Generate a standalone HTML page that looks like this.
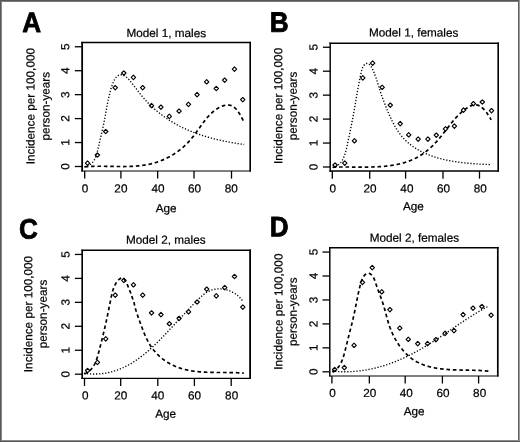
<!DOCTYPE html>
<html><head><meta charset="utf-8"><title>Incidence models</title><style>html,body{margin:0;padding:0;background:#fff;}svg{display:block;}</style></head><body>
<svg width="520" height="442" viewBox="0 0 520 442" font-family="'Liberation Sans', Arial, Helvetica, sans-serif"><style>text{stroke:#000;stroke-width:0.22px;}</style>
<rect x="0" y="0" width="520" height="442" fill="#fff"/>
<rect x="0" y="0" width="520" height="1" fill="#555"/><rect x="0" y="1" width="520" height="1" fill="#7a7a7a"/>
<rect x="0" y="0" width="1" height="442" fill="#5a5a5a"/><rect x="1" y="1" width="1" height="440" fill="#888"/>
<rect x="519" y="0" width="1" height="442" fill="#9a9a9a"/><rect x="518" y="1" width="1" height="440" fill="#626262"/>
<rect x="0" y="441" width="520" height="1" fill="#555"/><rect x="1" y="440" width="518" height="1" fill="#8a8a8a"/>
<g id="panelA">
<path d="M82.15,41.80 V171.55" stroke="#000" stroke-width="1.8"/>
<path d="M250.20,41.80 V171.55" stroke="#000" stroke-width="1.65"/>
<path d="M81.25,42.57 H251.02" stroke="#000" stroke-width="1.55"/>
<path d="M81.25,171.00 H251.02" stroke="#000" stroke-width="1.1"/>
<path d="M74.85,166.50 H82.15" stroke="#000" stroke-width="1.3"/>
<text font-size="11.75" text-anchor="middle" transform="translate(69.20 166.50) rotate(-90) matrix(1 0.001 0 1 0 0)">0</text>
<path d="M74.85,142.55 H82.15" stroke="#000" stroke-width="1.3"/>
<text font-size="11.75" text-anchor="middle" transform="translate(69.20 142.55) rotate(-90) matrix(1 0.001 0 1 0 0)">1</text>
<path d="M74.85,118.60 H82.15" stroke="#000" stroke-width="1.3"/>
<text font-size="11.75" text-anchor="middle" transform="translate(69.20 118.60) rotate(-90) matrix(1 0.001 0 1 0 0)">2</text>
<path d="M74.85,94.65 H82.15" stroke="#000" stroke-width="1.3"/>
<text font-size="11.75" text-anchor="middle" transform="translate(69.20 94.65) rotate(-90) matrix(1 0.001 0 1 0 0)">3</text>
<path d="M74.85,70.70 H82.15" stroke="#000" stroke-width="1.3"/>
<text font-size="11.75" text-anchor="middle" transform="translate(69.20 70.70) rotate(-90) matrix(1 0.001 0 1 0 0)">4</text>
<path d="M74.85,46.75 H82.15" stroke="#000" stroke-width="1.3"/>
<text font-size="11.75" text-anchor="middle" transform="translate(69.20 46.75) rotate(-90) matrix(1 0.001 0 1 0 0)">5</text>
<path d="M84.70,171.00 V178.60" stroke="#000" stroke-width="1.3"/>
<text font-size="11.75" text-anchor="middle" transform="translate(84.90 192.45) matrix(1 0.001 0 1 0 0)">0</text>
<path d="M120.90,171.00 V178.60" stroke="#000" stroke-width="1.3"/>
<text font-size="11.75" text-anchor="middle" transform="translate(120.90 192.45) matrix(1 0.001 0 1 0 0)">20</text>
<path d="M157.65,171.00 V178.60" stroke="#000" stroke-width="1.3"/>
<text font-size="11.75" text-anchor="middle" transform="translate(158.00 192.45) matrix(1 0.001 0 1 0 0)">40</text>
<path d="M194.00,171.00 V178.60" stroke="#000" stroke-width="1.3"/>
<text font-size="11.75" text-anchor="middle" transform="translate(194.60 192.45) matrix(1 0.001 0 1 0 0)">60</text>
<path d="M231.50,171.00 V178.60" stroke="#000" stroke-width="1.3"/>
<text font-size="11.75" text-anchor="middle" transform="translate(231.20 192.45) matrix(1 0.001 0 1 0 0)">80</text>
<text font-size="11.75" text-anchor="middle" transform="translate(166.25 37.10) matrix(1 0.001 0 1 0 0)">Model 1, males</text>
<text font-size="11.75" text-anchor="middle" transform="translate(166.20 212.30) matrix(1 0.001 0 1 0 0)">Age</text>
<text font-size="11.75" text-anchor="middle" transform="translate(34.50 106.15) rotate(-90) matrix(1 0.001 0 1 0 0)">Incidence per 100,000</text>
<text font-size="11.75" text-anchor="middle" transform="translate(49.50 106.15) rotate(-90) matrix(1 0.001 0 1 0 0)">person-years</text>
<text x="0" y="0" font-size="28.0" font-weight="bold" style="stroke:#000;stroke-width:0.8px;stroke-linejoin:round" transform="translate(22.24 32.00) scale(0.935 1) matrix(1 0.001 0 1 0 0)">A</text>
<path d="M84.67,166.78 L85.26,166.73 L85.86,166.68 L86.46,166.63 L87.06,166.59 L87.66,166.55 L88.25,166.51 L88.85,166.48 L89.45,166.45 L90.05,166.42 L90.65,166.39 L91.25,166.36 L91.85,166.34 L92.45,166.32 L93.05,166.30 L93.65,166.29 L94.25,166.27 L94.85,166.26 L95.45,166.25 L96.05,166.24 L96.65,166.24 L97.25,166.23 L97.85,166.23 L98.45,166.23 L99.05,166.23 L99.65,166.23 L100.25,166.23 L100.85,166.23 L101.45,166.23 L102.05,166.24 L102.65,166.25 L103.25,166.25 L103.85,166.26 L104.45,166.27 L105.05,166.28 L105.65,166.29 L106.25,166.30 L106.85,166.31 L107.45,166.32 L108.05,166.33 L108.65,166.34 L109.25,166.35 L109.85,166.36 L110.45,166.38 L111.05,166.39 L111.64,166.40 L112.24,166.41 L112.84,166.42 L113.44,166.43 L114.04,166.44 L114.64,166.46 L115.24,166.47 L115.84,166.48 L116.44,166.48 L117.04,166.49 L117.64,166.50 L118.24,166.51 L118.84,166.51 L119.44,166.52 L120.04,166.52 L120.64,166.53 L121.24,166.53 L121.84,166.53 L122.44,166.53 L123.04,166.53 L123.64,166.53 L124.24,166.53 L124.84,166.52 L125.44,166.51 L126.04,166.51 L126.64,166.50 L127.24,166.48 L127.84,166.47 L128.44,166.46 L129.04,166.44 L129.64,166.42 L130.24,166.40 L130.84,166.38 L131.44,166.35 L132.04,166.32 L132.64,166.29 L133.24,166.26 L133.83,166.23 L134.43,166.19 L135.03,166.15 L135.63,166.11 L136.23,166.06 L136.83,166.01 L137.42,165.96 L138.02,165.91 L138.62,165.85 L139.22,165.79 L139.81,165.73 L140.41,165.66 L141.01,165.59 L141.60,165.52 L142.20,165.44 L142.79,165.36 L143.38,165.28 L143.98,165.19 L144.57,165.10 L145.16,165.01 L145.75,164.91 L146.35,164.80 L146.94,164.70 L147.53,164.59 L148.11,164.47 L148.70,164.35 L149.29,164.23 L149.88,164.10 L150.46,163.97 L151.04,163.83 L151.63,163.69 L152.21,163.54 L152.79,163.39 L153.37,163.24 L153.95,163.07 L154.52,162.91 L155.10,162.74 L155.67,162.56 L156.25,162.39 L156.82,162.20 L157.39,162.01 L157.95,161.82 L158.52,161.62 L159.09,161.42 L159.65,161.21 L160.21,161.00 L160.77,160.79 L161.33,160.57 L161.88,160.34 L162.44,160.11 L162.99,159.88 L163.54,159.64 L164.09,159.40 L164.64,159.15 L165.18,158.90 L165.72,158.65 L166.27,158.39 L166.80,158.12 L167.34,157.85 L167.87,157.58 L168.41,157.30 L168.94,157.02 L169.46,156.74 L169.99,156.45 L170.51,156.15 L171.03,155.85 L171.55,155.55 L172.07,155.25 L172.58,154.93 L173.09,154.62 L173.60,154.30 L174.11,153.98 L174.61,153.65 L175.11,153.32 L175.61,152.99 L176.10,152.65 L176.60,152.31 L177.08,151.96 L177.57,151.61 L178.06,151.26 L178.54,150.90 L179.02,150.54 L179.49,150.17 L179.96,149.80 L180.43,149.43 L180.90,149.05 L181.37,148.67 L181.83,148.29 L182.28,147.90 L182.74,147.51 L183.19,147.11 L183.64,146.72 L184.08,146.31 L184.53,145.91 L184.97,145.50 L185.40,145.09 L185.83,144.67 L186.26,144.25 L186.69,143.83 L187.11,143.40 L187.53,142.97 L187.95,142.54 L188.36,142.11 L188.77,141.67 L189.17,141.23 L189.58,140.78 L189.98,140.33 L190.37,139.88 L190.76,139.43 L191.15,138.97 L191.53,138.51 L191.92,138.05 L192.29,137.58 L192.67,137.11 L193.04,136.64 L193.41,136.17 L193.78,135.69 L194.14,135.22 L194.50,134.74 L194.86,134.26 L195.22,133.78 L195.58,133.29 L195.93,132.81 L196.29,132.33 L196.64,131.84 L196.99,131.35 L197.34,130.87 L197.69,130.38 L198.04,129.89 L198.38,129.40 L198.73,128.91 L199.08,128.42 L199.43,127.93 L199.77,127.45 L200.12,126.96 L200.47,126.47 L200.82,125.98 L201.17,125.49 L201.52,125.01 L201.87,124.52 L202.23,124.04 L202.58,123.55 L202.94,123.07 L203.30,122.59 L203.66,122.11 L204.02,121.63 L204.38,121.15 L204.75,120.68 L205.12,120.21 L205.49,119.74 L205.87,119.27 L206.25,118.80 L206.63,118.34 L207.02,117.88 L207.41,117.43 L207.80,116.97 L208.20,116.53 L208.60,116.08 L209.01,115.64 L209.42,115.20 L209.83,114.77 L210.25,114.34 L210.68,113.92 L211.11,113.50 L211.54,113.09 L211.99,112.68 L212.43,112.28 L212.88,111.89 L213.34,111.50 L213.81,111.12 L214.28,110.75 L214.75,110.38 L215.23,110.02 L215.72,109.67 L216.21,109.33 L216.71,109.00 L217.22,108.68 L217.73,108.36 L218.25,108.06 L218.77,107.76 L219.30,107.48 L219.83,107.20 L220.37,106.94 L220.92,106.69 L221.47,106.45 L222.02,106.23 L222.59,106.02 L223.16,105.83 L223.73,105.66 L224.31,105.50 L224.89,105.37 L225.48,105.25 L226.07,105.16 L226.67,105.10 L227.27,105.06 L227.87,105.05 L228.47,105.07 L229.07,105.12 L229.66,105.21 L230.25,105.32 L230.83,105.48 L231.40,105.67 L231.95,105.89 L232.50,106.15 L233.02,106.44 L233.53,106.76 L234.02,107.11 L234.49,107.48 L234.94,107.88 L235.37,108.29 L235.79,108.72 L236.19,109.16 L236.59,109.62 L236.97,110.08 L237.34,110.55 L237.69,111.03 L238.04,111.52 L238.38,112.02 L238.72,112.52 L239.04,113.02 L239.36,113.53 L239.67,114.04 L239.98,114.56 L240.28,115.07 L240.58,115.60 L240.87,116.12 L241.16,116.64 L241.44,117.17 L241.73,117.70 L242.01,118.23 L242.29,118.76 L242.56,119.29 L242.84,119.83 L243.12,120.36 L243.41,120.89 L243.69,121.41" fill="none" stroke="#000" stroke-width="1.7" stroke-dasharray="3.6 2.8"/>
<path d="M84.39,166.92 L84.98,166.80 L85.56,166.66 L86.14,166.50 L86.71,166.32 L87.28,166.11 L87.83,165.89 L88.38,165.64 L88.91,165.36 L89.43,165.07 L89.94,164.75 L90.43,164.40 L90.90,164.03 L91.36,163.65 L91.80,163.24 L92.21,162.81 L92.61,162.36 L92.99,161.89 L93.35,161.41 L93.69,160.92 L94.01,160.41 L94.32,159.90 L94.61,159.37 L94.88,158.84 L95.13,158.29 L95.38,157.75 L95.60,157.19 L95.82,156.63 L96.03,156.07 L96.22,155.50 L96.41,154.93 L96.59,154.36 L96.76,153.78 L96.92,153.21 L97.08,152.63 L97.23,152.05 L97.38,151.47 L97.52,150.88 L97.66,150.30 L97.80,149.72 L97.93,149.13 L98.07,148.55 L98.21,147.96 L98.34,147.38 L98.48,146.80 L98.61,146.21 L98.75,145.63 L98.88,145.04 L99.02,144.46 L99.16,143.88 L99.29,143.29 L99.43,142.71 L99.57,142.12 L99.70,141.54 L99.84,140.96 L99.98,140.37 L100.11,139.79 L100.25,139.20 L100.38,138.62 L100.52,138.04 L100.65,137.45 L100.79,136.87 L100.93,136.28 L101.06,135.70 L101.19,135.11 L101.33,134.53 L101.46,133.95 L101.60,133.36 L101.73,132.78 L101.86,132.19 L101.99,131.61 L102.13,131.02 L102.26,130.44 L102.39,129.85 L102.52,129.27 L102.65,128.68 L102.78,128.09 L102.90,127.51 L103.03,126.92 L103.16,126.34 L103.28,125.75 L103.41,125.16 L103.53,124.58 L103.66,123.99 L103.78,123.40 L103.90,122.82 L104.02,122.23 L104.14,121.64 L104.26,121.05 L104.38,120.46 L104.50,119.88 L104.61,119.29 L104.73,118.70 L104.84,118.11 L104.96,117.52 L105.07,116.93 L105.18,116.34 L105.29,115.75 L105.39,115.16 L105.50,114.57 L105.61,113.98 L105.71,113.39 L105.82,112.80 L105.92,112.21 L106.03,111.62 L106.13,111.03 L106.23,110.44 L106.34,109.85 L106.44,109.26 L106.55,108.67 L106.65,108.08 L106.76,107.49 L106.86,106.90 L106.97,106.31 L107.08,105.72 L107.19,105.13 L107.30,104.54 L107.41,103.95 L107.52,103.36 L107.64,102.77 L107.75,102.18 L107.87,101.59 L107.99,101.01 L108.11,100.42 L108.23,99.83 L108.35,99.24 L108.48,98.66 L108.61,98.07 L108.74,97.49 L108.87,96.90 L109.00,96.32 L109.14,95.73 L109.28,95.15 L109.42,94.57 L109.57,93.99 L109.72,93.41 L109.87,92.82 L110.02,92.24 L110.17,91.67 L110.33,91.09 L110.49,90.51 L110.66,89.93 L110.82,89.36 L110.99,88.78 L111.17,88.21 L111.34,87.63 L111.52,87.06 L111.70,86.49 L111.89,85.92 L112.09,85.35 L112.28,84.79 L112.49,84.22 L112.70,83.66 L112.92,83.10 L113.15,82.55 L113.38,82.00 L113.63,81.45 L113.89,80.91 L114.16,80.37 L114.44,79.85 L114.74,79.33 L115.05,78.81 L115.38,78.31 L115.74,77.83 L116.11,77.36 L116.51,76.91 L116.93,76.49 L117.38,76.09 L117.86,75.73 L118.37,75.42 L118.91,75.15 L119.47,74.94 L120.05,74.79 L120.64,74.71 L121.24,74.70 L121.84,74.76 L122.43,74.88 L123.00,75.06 L123.55,75.28 L124.09,75.55 L124.61,75.85 L125.11,76.17 L125.60,76.52 L126.07,76.89 L126.53,77.28 L126.98,77.68 L127.42,78.09 L127.85,78.51 L128.27,78.94 L128.68,79.37 L129.08,79.81 L129.48,80.26 L129.88,80.71 L130.26,81.17 L130.65,81.63 L131.03,82.09 L131.41,82.56 L131.78,83.03 L132.16,83.50 L132.53,83.97 L132.90,84.44 L133.27,84.91 L133.64,85.38 L134.01,85.86 L134.37,86.33 L134.74,86.81 L135.11,87.28 L135.47,87.76 L135.83,88.23 L136.20,88.71 L136.56,89.19 L136.93,89.66 L137.29,90.14 L137.66,90.62 L138.02,91.09 L138.39,91.57 L138.75,92.04 L139.12,92.51 L139.49,92.99 L139.86,93.46 L140.23,93.93 L140.61,94.40 L140.98,94.87 L141.36,95.33 L141.74,95.80 L142.12,96.26 L142.50,96.72 L142.89,97.18 L143.28,97.64 L143.67,98.09 L144.06,98.54 L144.46,98.99 L144.86,99.44 L145.26,99.89 L145.66,100.33 L146.07,100.77 L146.48,101.21 L146.89,101.65 L147.30,102.09 L147.71,102.52 L148.13,102.95 L148.55,103.38 L148.97,103.80 L149.40,104.23 L149.82,104.65 L150.25,105.07 L150.68,105.49 L151.12,105.90 L151.55,106.31 L151.99,106.72 L152.43,107.13 L152.87,107.54 L153.31,107.94 L153.76,108.34 L154.21,108.74 L154.66,109.14 L155.11,109.53 L155.56,109.93 L156.02,110.32 L156.47,110.70 L156.93,111.09 L157.39,111.47 L157.86,111.85 L158.32,112.23 L158.79,112.61 L159.26,112.98 L159.73,113.35 L160.20,113.72 L160.68,114.09 L161.15,114.45 L161.63,114.82 L162.11,115.18 L162.59,115.53 L163.07,115.89 L163.56,116.24 L164.05,116.59 L164.53,116.94 L165.02,117.29 L165.52,117.63 L166.01,117.97 L166.50,118.31 L167.00,118.65 L167.50,118.98 L168.00,119.31 L168.50,119.64 L169.00,119.97 L169.51,120.29 L170.01,120.62 L170.52,120.93 L171.03,121.25 L171.54,121.57 L172.05,121.88 L172.56,122.19 L173.08,122.50 L173.60,122.80 L174.11,123.10 L174.63,123.40 L175.15,123.70 L175.68,124.00 L176.20,124.29 L176.72,124.58 L177.25,124.87 L177.78,125.15 L178.31,125.43 L178.84,125.71 L179.37,125.99 L179.90,126.27 L180.44,126.54 L180.97,126.81 L181.51,127.08 L182.05,127.34 L182.58,127.61 L183.12,127.87 L183.67,128.12 L184.21,128.38 L184.75,128.63 L185.30,128.88 L185.84,129.13 L186.39,129.38 L186.94,129.62 L187.49,129.86 L188.04,130.10 L188.59,130.34 L189.14,130.57 L189.69,130.80 L190.25,131.03 L190.80,131.26 L191.36,131.49 L191.91,131.71 L192.47,131.93 L193.03,132.15 L193.59,132.37 L194.15,132.58 L194.71,132.79 L195.27,133.00 L195.83,133.21 L196.40,133.42 L196.96,133.62 L197.53,133.82 L198.09,134.02 L198.66,134.22 L199.23,134.41 L199.79,134.61 L200.36,134.80 L200.93,134.99 L201.50,135.17 L202.07,135.36 L202.64,135.54 L203.21,135.72 L203.79,135.90 L204.36,136.08 L204.93,136.26 L205.51,136.43 L206.08,136.60 L206.66,136.77 L207.23,136.94 L207.81,137.11 L208.38,137.27 L208.96,137.44 L209.54,137.60 L210.12,137.76 L210.70,137.91 L211.27,138.07 L211.85,138.22 L212.43,138.38 L213.01,138.53 L213.60,138.68 L214.18,138.82 L214.76,138.97 L215.34,139.11 L215.92,139.26 L216.51,139.40 L217.09,139.54 L217.67,139.67 L218.26,139.81 L218.84,139.95 L219.43,140.08 L220.01,140.21 L220.60,140.34 L221.18,140.47 L221.77,140.60 L222.35,140.72 L222.94,140.85 L223.53,140.97 L224.11,141.09 L224.70,141.21 L225.29,141.33 L225.88,141.45 L226.47,141.57 L227.05,141.68 L227.64,141.80 L228.23,141.91 L228.82,142.02 L229.41,142.13 L230.00,142.24 L230.59,142.35 L231.18,142.46 L231.77,142.56 L232.36,142.66 L232.95,142.77 L233.54,142.87 L234.14,142.97 L234.73,143.07 L235.32,143.17 L235.91,143.27 L236.50,143.36 L237.09,143.46 L237.69,143.55 L238.28,143.65 L238.87,143.74 L239.46,143.83 L240.06,143.92 L240.65,144.01 L241.24,144.10 L241.84,144.19 L242.43,144.27 L243.02,144.36 L243.62,144.45 L244.21,144.53" fill="none" stroke="#000" stroke-width="1.35" stroke-dasharray="1.25 1.8"/>
<path d="M87.55,160.90 L89.75,163.10 L87.55,165.30 L85.35,163.10 Z" fill="none" stroke="#000" stroke-width="1.15" stroke-linejoin="round"/>
<path d="M97.40,152.80 L99.60,155.00 L97.40,157.20 L95.20,155.00 Z" fill="none" stroke="#000" stroke-width="1.15" stroke-linejoin="round"/>
<path d="M105.70,129.30 L107.90,131.50 L105.70,133.70 L103.50,131.50 Z" fill="none" stroke="#000" stroke-width="1.15" stroke-linejoin="round"/>
<path d="M115.20,85.50 L117.40,87.70 L115.20,89.90 L113.00,87.70 Z" fill="none" stroke="#000" stroke-width="1.15" stroke-linejoin="round"/>
<path d="M123.80,70.80 L126.00,73.00 L123.80,75.20 L121.60,73.00 Z" fill="none" stroke="#000" stroke-width="1.15" stroke-linejoin="round"/>
<path d="M133.40,75.20 L135.60,77.40 L133.40,79.60 L131.20,77.40 Z" fill="none" stroke="#000" stroke-width="1.15" stroke-linejoin="round"/>
<path d="M142.65,85.50 L144.85,87.70 L142.65,89.90 L140.45,87.70 Z" fill="none" stroke="#000" stroke-width="1.15" stroke-linejoin="round"/>
<path d="M151.50,103.35 L153.70,105.55 L151.50,107.75 L149.30,105.55 Z" fill="none" stroke="#000" stroke-width="1.15" stroke-linejoin="round"/>
<path d="M160.90,105.00 L163.10,107.20 L160.90,109.40 L158.70,107.20 Z" fill="none" stroke="#000" stroke-width="1.15" stroke-linejoin="round"/>
<path d="M169.30,114.15 L171.50,116.35 L169.30,118.55 L167.10,116.35 Z" fill="none" stroke="#000" stroke-width="1.15" stroke-linejoin="round"/>
<path d="M179.05,108.85 L181.25,111.05 L179.05,113.25 L176.85,111.05 Z" fill="none" stroke="#000" stroke-width="1.15" stroke-linejoin="round"/>
<path d="M188.45,102.20 L190.65,104.40 L188.45,106.60 L186.25,104.40 Z" fill="none" stroke="#000" stroke-width="1.15" stroke-linejoin="round"/>
<path d="M197.05,92.40 L199.25,94.60 L197.05,96.80 L194.85,94.60 Z" fill="none" stroke="#000" stroke-width="1.15" stroke-linejoin="round"/>
<path d="M206.65,79.60 L208.85,81.80 L206.65,84.00 L204.45,81.80 Z" fill="none" stroke="#000" stroke-width="1.15" stroke-linejoin="round"/>
<path d="M216.25,86.30 L218.45,88.50 L216.25,90.70 L214.05,88.50 Z" fill="none" stroke="#000" stroke-width="1.15" stroke-linejoin="round"/>
<path d="M224.65,78.00 L226.85,80.20 L224.65,82.40 L222.45,80.20 Z" fill="none" stroke="#000" stroke-width="1.15" stroke-linejoin="round"/>
<path d="M234.45,66.90 L236.65,69.10 L234.45,71.30 L232.25,69.10 Z" fill="none" stroke="#000" stroke-width="1.15" stroke-linejoin="round"/>
<path d="M242.75,97.50 L244.95,99.70 L242.75,101.90 L240.55,99.70 Z" fill="none" stroke="#000" stroke-width="1.15" stroke-linejoin="round"/>
</g>
<g id="panelB">
<path d="M330.20,42.55 V171.75" stroke="#000" stroke-width="1.45"/>
<path d="M498.20,42.55 V171.75" stroke="#000" stroke-width="1.6"/>
<path d="M329.47,43.25 H499.00" stroke="#000" stroke-width="1.4"/>
<path d="M329.47,171.05 H499.00" stroke="#000" stroke-width="1.4"/>
<path d="M322.90,167.00 H330.20" stroke="#000" stroke-width="1.3"/>
<text font-size="11.75" text-anchor="middle" transform="translate(317.50 167.00) rotate(-90) matrix(1 0.001 0 1 0 0)">0</text>
<path d="M322.90,143.05 H330.20" stroke="#000" stroke-width="1.3"/>
<text font-size="11.75" text-anchor="middle" transform="translate(317.50 143.05) rotate(-90) matrix(1 0.001 0 1 0 0)">1</text>
<path d="M322.90,119.10 H330.20" stroke="#000" stroke-width="1.3"/>
<text font-size="11.75" text-anchor="middle" transform="translate(317.50 119.10) rotate(-90) matrix(1 0.001 0 1 0 0)">2</text>
<path d="M322.90,95.15 H330.20" stroke="#000" stroke-width="1.3"/>
<text font-size="11.75" text-anchor="middle" transform="translate(317.50 95.15) rotate(-90) matrix(1 0.001 0 1 0 0)">3</text>
<path d="M322.90,71.20 H330.20" stroke="#000" stroke-width="1.3"/>
<text font-size="11.75" text-anchor="middle" transform="translate(317.50 71.20) rotate(-90) matrix(1 0.001 0 1 0 0)">4</text>
<path d="M322.90,47.25 H330.20" stroke="#000" stroke-width="1.3"/>
<text font-size="11.75" text-anchor="middle" transform="translate(317.50 47.25) rotate(-90) matrix(1 0.001 0 1 0 0)">5</text>
<path d="M332.30,171.05 V178.65" stroke="#000" stroke-width="1.3"/>
<text font-size="11.75" text-anchor="middle" transform="translate(332.70 192.50) matrix(1 0.001 0 1 0 0)">0</text>
<path d="M369.70,171.05 V178.65" stroke="#000" stroke-width="1.3"/>
<text font-size="11.75" text-anchor="middle" transform="translate(370.00 192.50) matrix(1 0.001 0 1 0 0)">20</text>
<path d="M405.60,171.05 V178.65" stroke="#000" stroke-width="1.3"/>
<text font-size="11.75" text-anchor="middle" transform="translate(406.90 192.50) matrix(1 0.001 0 1 0 0)">40</text>
<path d="M443.00,171.05 V178.65" stroke="#000" stroke-width="1.3"/>
<text font-size="11.75" text-anchor="middle" transform="translate(443.60 192.50) matrix(1 0.001 0 1 0 0)">60</text>
<path d="M479.50,171.05 V178.65" stroke="#000" stroke-width="1.3"/>
<text font-size="11.75" text-anchor="middle" transform="translate(480.20 192.50) matrix(1 0.001 0 1 0 0)">80</text>
<text font-size="11.75" text-anchor="middle" transform="translate(413.65 36.60) matrix(1 0.001 0 1 0 0)">Model 1, females</text>
<text font-size="11.75" text-anchor="middle" transform="translate(413.40 210.20) matrix(1 0.001 0 1 0 0)">Age</text>
<text font-size="11.75" text-anchor="middle" transform="translate(282.30 105.95) rotate(-90) matrix(1 0.001 0 1 0 0)">Incidence per 100,000</text>
<text font-size="11.75" text-anchor="middle" transform="translate(296.80 105.95) rotate(-90) matrix(1 0.001 0 1 0 0)">person-years</text>
<text x="0" y="0" font-size="28.0" font-weight="bold" style="stroke:#000;stroke-width:0.8px;stroke-linejoin:round" transform="translate(269.80 31.70) scale(0.935 1) matrix(1 0.001 0 1 0 0)">B</text>
<path d="M332.70,167.23 L333.30,167.20 L333.90,167.18 L334.50,167.16 L335.10,167.13 L335.70,167.12 L336.30,167.10 L336.90,167.08 L337.50,167.07 L338.10,167.05 L338.70,167.04 L339.30,167.03 L339.90,167.02 L340.50,167.02 L341.10,167.01 L341.70,167.01 L342.30,167.00 L342.90,167.00 L343.50,167.00 L344.10,166.99 L344.70,166.99 L345.30,166.99 L345.90,167.00 L346.50,167.00 L347.10,167.00 L347.70,167.00 L348.30,167.01 L348.90,167.01 L349.50,167.01 L350.10,167.02 L350.70,167.02 L351.30,167.03 L351.90,167.03 L352.50,167.04 L353.10,167.04 L353.70,167.05 L354.30,167.05 L354.90,167.06 L355.50,167.06 L356.10,167.07 L356.70,167.07 L357.30,167.08 L357.90,167.08 L358.50,167.09 L359.10,167.09 L359.70,167.09 L360.30,167.10 L360.90,167.10 L361.50,167.10 L362.10,167.10 L362.70,167.10 L363.30,167.10 L363.90,167.10 L364.50,167.10 L365.10,167.10 L365.70,167.09 L366.30,167.09 L366.90,167.08 L367.50,167.08 L368.10,167.07 L368.70,167.06 L369.30,167.05 L369.90,167.04 L370.50,167.03 L371.10,167.02 L371.70,167.00 L372.30,166.99 L372.90,166.97 L373.50,166.95 L374.10,166.93 L374.70,166.91 L375.29,166.88 L375.89,166.86 L376.49,166.83 L377.09,166.80 L377.69,166.77 L378.29,166.74 L378.89,166.70 L379.49,166.67 L380.09,166.63 L380.69,166.59 L381.28,166.55 L381.88,166.50 L382.48,166.46 L383.08,166.41 L383.68,166.35 L384.27,166.30 L384.87,166.24 L385.47,166.19 L386.07,166.12 L386.66,166.06 L387.26,165.99 L387.85,165.92 L388.45,165.85 L389.05,165.78 L389.64,165.70 L390.23,165.62 L390.83,165.54 L391.42,165.45 L392.02,165.36 L392.61,165.27 L393.20,165.17 L393.79,165.07 L394.38,164.97 L394.97,164.86 L395.56,164.75 L396.15,164.64 L396.74,164.52 L397.33,164.40 L397.92,164.27 L398.50,164.15 L399.09,164.01 L399.67,163.88 L400.25,163.74 L400.84,163.59 L401.42,163.44 L402.00,163.29 L402.58,163.13 L403.16,162.97 L403.73,162.81 L404.31,162.64 L404.88,162.46 L405.45,162.29 L406.03,162.10 L406.59,161.91 L407.16,161.72 L407.73,161.52 L408.29,161.32 L408.86,161.11 L409.42,160.90 L409.98,160.68 L410.53,160.46 L411.09,160.23 L411.64,160.00 L412.19,159.76 L412.74,159.52 L413.29,159.27 L413.83,159.02 L414.37,158.76 L414.91,158.50 L415.45,158.23 L415.98,157.95 L416.51,157.67 L417.04,157.39 L417.57,157.10 L418.09,156.80 L418.61,156.50 L419.12,156.20 L419.64,155.89 L420.15,155.57 L420.66,155.25 L421.16,154.93 L421.66,154.60 L422.16,154.27 L422.66,153.93 L423.15,153.59 L423.64,153.24 L424.13,152.89 L424.61,152.54 L425.10,152.18 L425.57,151.82 L426.05,151.45 L426.52,151.08 L426.99,150.71 L427.46,150.33 L427.92,149.95 L428.38,149.56 L428.84,149.18 L429.29,148.78 L429.74,148.39 L430.19,147.99 L430.63,147.59 L431.08,147.18 L431.51,146.77 L431.95,146.36 L432.38,145.94 L432.81,145.52 L433.24,145.10 L433.66,144.68 L434.08,144.25 L434.50,143.82 L434.92,143.39 L435.33,142.95 L435.74,142.51 L436.14,142.07 L436.55,141.62 L436.95,141.18 L437.34,140.73 L437.74,140.28 L438.13,139.82 L438.52,139.37 L438.91,138.91 L439.29,138.45 L439.68,137.99 L440.06,137.53 L440.44,137.06 L440.82,136.59 L441.19,136.13 L441.57,135.66 L441.94,135.19 L442.31,134.72 L442.69,134.25 L443.06,133.78 L443.42,133.30 L443.79,132.83 L444.16,132.35 L444.53,131.88 L444.89,131.40 L445.26,130.93 L445.62,130.45 L445.99,129.98 L446.36,129.50 L446.72,129.03 L447.09,128.55 L447.45,128.07 L447.82,127.60 L448.19,127.13 L448.55,126.65 L448.92,126.18 L449.29,125.70 L449.66,125.23 L450.03,124.76 L450.41,124.29 L450.78,123.82 L451.15,123.35 L451.53,122.89 L451.91,122.42 L452.29,121.96 L452.67,121.49 L453.06,121.03 L453.44,120.58 L453.83,120.12 L454.22,119.66 L454.62,119.21 L455.01,118.76 L455.41,118.31 L455.81,117.87 L456.22,117.42 L456.62,116.98 L457.03,116.54 L457.45,116.11 L457.87,115.68 L458.29,115.25 L458.71,114.83 L459.14,114.40 L459.57,113.99 L460.00,113.57 L460.44,113.16 L460.88,112.76 L461.33,112.36 L461.78,111.96 L462.24,111.57 L462.70,111.19 L463.16,110.80 L463.63,110.43 L464.10,110.06 L464.57,109.69 L465.05,109.33 L465.54,108.98 L466.03,108.63 L466.52,108.29 L467.02,107.96 L467.52,107.63 L468.03,107.31 L468.55,107.00 L469.07,106.70 L469.59,106.42 L470.13,106.15 L470.67,105.90 L471.23,105.66 L471.79,105.45 L472.36,105.26 L472.94,105.11 L473.52,104.98 L474.12,104.89 L474.71,104.84 L475.31,104.83 L475.91,104.86 L476.51,104.93 L477.10,105.04 L477.68,105.19 L478.25,105.37 L478.81,105.58 L479.36,105.83 L479.89,106.11 L480.41,106.41 L480.91,106.74 L481.40,107.09 L481.87,107.46 L482.33,107.85 L482.78,108.25 L483.21,108.66 L483.64,109.08 L484.05,109.52 L484.45,109.96 L484.85,110.41 L485.23,110.87 L485.61,111.34 L485.98,111.81 L486.34,112.29 L486.70,112.77 L487.05,113.26 L487.39,113.75 L487.73,114.25 L488.06,114.75 L488.39,115.25 L488.71,115.76 L489.03,116.26 L489.35,116.77 L489.66,117.29 L489.96,117.80 L490.27,118.32 L490.57,118.84 L490.87,119.36 L491.16,119.88" fill="none" stroke="#000" stroke-width="1.7" stroke-dasharray="3.6 2.8"/>
<path d="M332.79,167.72 L333.36,167.55 L333.93,167.35 L334.48,167.13 L335.03,166.90 L335.58,166.64 L336.11,166.36 L336.63,166.06 L337.13,165.74 L337.63,165.41 L338.11,165.05 L338.57,164.67 L339.02,164.27 L339.46,163.86 L339.87,163.43 L340.28,162.99 L340.66,162.53 L341.03,162.06 L341.39,161.58 L341.73,161.09 L342.05,160.58 L342.37,160.07 L342.66,159.55 L342.95,159.02 L343.22,158.49 L343.48,157.95 L343.72,157.40 L343.96,156.85 L344.19,156.30 L344.40,155.74 L344.61,155.18 L344.81,154.61 L345.00,154.04 L345.18,153.47 L345.36,152.90 L345.53,152.33 L345.69,151.75 L345.85,151.17 L346.00,150.59 L346.15,150.01 L346.29,149.43 L346.43,148.85 L346.57,148.26 L346.70,147.68 L346.83,147.10 L346.96,146.51 L347.09,145.92 L347.21,145.34 L347.34,144.75 L347.46,144.17 L347.58,143.58 L347.70,142.99 L347.83,142.41 L347.95,141.82 L348.07,141.23 L348.19,140.65 L348.32,140.06 L348.44,139.47 L348.56,138.89 L348.68,138.30 L348.80,137.72 L348.93,137.13 L349.05,136.54 L349.17,135.96 L349.29,135.37 L349.41,134.78 L349.54,134.20 L349.66,133.61 L349.78,133.02 L349.90,132.44 L350.02,131.85 L350.14,131.26 L350.26,130.68 L350.38,130.09 L350.50,129.50 L350.62,128.91 L350.74,128.33 L350.86,127.74 L350.98,127.15 L351.10,126.57 L351.21,125.98 L351.33,125.39 L351.45,124.80 L351.57,124.22 L351.68,123.63 L351.80,123.04 L351.91,122.45 L352.03,121.87 L352.14,121.28 L352.26,120.69 L352.37,120.10 L352.49,119.51 L352.60,118.92 L352.71,118.34 L352.82,117.75 L352.93,117.16 L353.04,116.57 L353.15,115.98 L353.26,115.39 L353.37,114.80 L353.48,114.21 L353.59,113.62 L353.69,113.03 L353.80,112.45 L353.91,111.86 L354.01,111.27 L354.12,110.68 L354.22,110.09 L354.32,109.50 L354.43,108.91 L354.53,108.32 L354.63,107.73 L354.73,107.14 L354.84,106.54 L354.94,105.95 L355.04,105.36 L355.14,104.77 L355.24,104.18 L355.34,103.59 L355.44,103.00 L355.54,102.41 L355.64,101.82 L355.74,101.23 L355.84,100.64 L355.95,100.05 L356.05,99.46 L356.15,98.87 L356.25,98.28 L356.35,97.69 L356.45,97.10 L356.55,96.51 L356.65,95.92 L356.75,95.33 L356.86,94.74 L356.96,94.14 L357.06,93.55 L357.17,92.96 L357.27,92.37 L357.37,91.78 L357.48,91.19 L357.58,90.60 L357.69,90.02 L357.79,89.43 L357.90,88.84 L358.01,88.25 L358.12,87.66 L358.22,87.07 L358.33,86.48 L358.44,85.89 L358.55,85.30 L358.66,84.71 L358.78,84.12 L358.89,83.54 L359.00,82.95 L359.12,82.36 L359.23,81.77 L359.35,81.18 L359.46,80.60 L359.58,80.01 L359.70,79.42 L359.82,78.83 L359.94,78.25 L360.06,77.66 L360.19,77.07 L360.31,76.49 L360.43,75.90 L360.56,75.32 L360.69,74.73 L360.81,74.15 L360.94,73.56 L361.07,72.98 L361.21,72.39 L361.34,71.81 L361.48,71.23 L361.63,70.65 L361.79,70.07 L361.95,69.49 L362.14,68.92 L362.33,68.36 L362.55,67.80 L362.78,67.25 L363.04,66.71 L363.33,66.18 L363.66,65.68 L364.02,65.20 L364.42,64.76 L364.87,64.36 L365.35,64.01 L365.88,63.72 L366.44,63.52 L367.03,63.42 L367.63,63.47 L368.20,63.64 L368.73,63.91 L369.22,64.25 L369.67,64.65 L370.08,65.09 L370.46,65.55 L370.82,66.03 L371.15,66.52 L371.47,67.03 L371.77,67.55 L372.06,68.07 L372.34,68.61 L372.60,69.14 L372.86,69.68 L373.11,70.23 L373.35,70.78 L373.58,71.33 L373.81,71.88 L374.04,72.44 L374.25,73.00 L374.47,73.56 L374.68,74.12 L374.89,74.68 L375.09,75.24 L375.29,75.81 L375.50,76.37 L375.69,76.94 L375.89,77.50 L376.08,78.07 L376.28,78.64 L376.47,79.20 L376.66,79.77 L376.84,80.34 L377.03,80.91 L377.21,81.48 L377.39,82.05 L377.57,82.62 L377.75,83.20 L377.93,83.77 L378.11,84.34 L378.28,84.91 L378.46,85.49 L378.63,86.06 L378.80,86.63 L378.98,87.21 L379.15,87.78 L379.32,88.35 L379.50,88.92 L379.68,89.50 L379.85,90.07 L380.03,90.64 L380.21,91.21 L380.40,91.78 L380.58,92.35 L380.77,92.92 L380.96,93.49 L381.15,94.06 L381.34,94.62 L381.54,95.19 L381.74,95.76 L381.94,96.32 L382.14,96.88 L382.34,97.45 L382.55,98.01 L382.76,98.57 L382.97,99.13 L383.18,99.69 L383.39,100.26 L383.60,100.81 L383.82,101.37 L384.03,101.93 L384.25,102.49 L384.47,103.05 L384.69,103.61 L384.91,104.16 L385.13,104.72 L385.35,105.28 L385.57,105.83 L385.79,106.39 L386.02,106.95 L386.24,107.50 L386.47,108.06 L386.69,108.61 L386.92,109.17 L387.15,109.72 L387.38,110.27 L387.61,110.83 L387.84,111.38 L388.07,111.93 L388.30,112.48 L388.54,113.03 L388.77,113.59 L389.01,114.14 L389.25,114.68 L389.49,115.23 L389.73,115.78 L389.98,116.33 L390.22,116.87 L390.47,117.42 L390.72,117.96 L390.98,118.51 L391.23,119.05 L391.49,119.59 L391.75,120.13 L392.01,120.67 L392.27,121.21 L392.54,121.74 L392.81,122.28 L393.09,122.81 L393.36,123.34 L393.64,123.87 L393.92,124.40 L394.21,124.93 L394.50,125.45 L394.79,125.98 L395.08,126.50 L395.38,127.02 L395.68,127.53 L395.99,128.05 L396.30,128.56 L396.61,129.07 L396.93,129.58 L397.25,130.08 L397.58,130.59 L397.91,131.09 L398.24,131.58 L398.58,132.08 L398.92,132.57 L399.27,133.06 L399.62,133.54 L399.98,134.02 L400.34,134.50 L400.71,134.97 L401.09,135.44 L401.46,135.90 L401.85,136.37 L402.24,136.82 L402.63,137.27 L403.03,137.72 L403.43,138.17 L403.84,138.60 L404.25,139.04 L404.66,139.47 L405.09,139.90 L405.51,140.32 L405.94,140.73 L406.38,141.15 L406.81,141.55 L407.26,141.96 L407.70,142.36 L408.16,142.75 L408.61,143.14 L409.07,143.53 L409.53,143.91 L410.00,144.28 L410.47,144.65 L410.94,145.02 L411.42,145.38 L411.90,145.74 L412.39,146.09 L412.88,146.44 L413.37,146.78 L413.86,147.12 L414.36,147.45 L414.86,147.78 L415.36,148.11 L415.87,148.43 L416.38,148.74 L416.89,149.05 L417.40,149.36 L417.92,149.66 L418.44,149.96 L418.96,150.26 L419.49,150.54 L420.01,150.83 L420.54,151.11 L421.07,151.39 L421.61,151.66 L422.14,151.93 L422.68,152.19 L423.22,152.45 L423.76,152.71 L424.31,152.96 L424.85,153.21 L425.40,153.45 L425.95,153.69 L426.50,153.93 L427.05,154.16 L427.60,154.39 L428.16,154.61 L428.72,154.83 L429.27,155.05 L429.83,155.26 L430.40,155.47 L430.96,155.68 L431.52,155.88 L432.09,156.08 L432.65,156.28 L433.22,156.47 L433.79,156.66 L434.36,156.85 L434.93,157.03 L435.50,157.21 L436.07,157.39 L436.64,157.56 L437.22,157.73 L437.79,157.90 L438.37,158.06 L438.95,158.22 L439.53,158.38 L440.10,158.54 L440.68,158.69 L441.26,158.84 L441.84,158.99 L442.43,159.13 L443.01,159.27 L443.59,159.41 L444.17,159.55 L444.76,159.68 L445.34,159.81 L445.93,159.94 L446.51,160.07 L447.10,160.19 L447.69,160.31 L448.27,160.43 L448.86,160.55 L449.45,160.66 L450.04,160.77 L450.63,160.88 L451.22,160.99 L451.81,161.09 L452.40,161.20 L452.99,161.30 L453.58,161.39 L454.17,161.49 L454.76,161.59 L455.35,161.68 L455.94,161.77 L456.54,161.86 L457.13,161.94 L457.72,162.03 L458.32,162.11 L458.91,162.19 L459.50,162.27 L460.10,162.35 L460.69,162.42 L461.29,162.50 L461.88,162.57 L462.48,162.64 L463.07,162.71 L463.67,162.78 L464.26,162.84 L464.86,162.91 L465.45,162.97 L466.05,163.03 L466.64,163.09 L467.24,163.15 L467.84,163.21 L468.43,163.26 L469.03,163.32 L469.63,163.37 L470.22,163.42 L470.82,163.47 L471.42,163.52 L472.02,163.57 L472.61,163.62 L473.21,163.66 L473.81,163.71 L474.40,163.75 L475.00,163.79 L475.60,163.83 L476.20,163.87 L476.80,163.91 L477.39,163.95 L477.99,163.99 L478.59,164.03 L479.19,164.06 L479.79,164.10 L480.38,164.13 L480.98,164.16 L481.58,164.19 L482.18,164.23 L482.78,164.26 L483.37,164.29 L483.97,164.32 L484.57,164.34 L485.17,164.37 L485.77,164.40 L486.37,164.43 L486.97,164.45 L487.56,164.48 L488.16,164.50 L488.76,164.53 L489.36,164.55 L489.96,164.58 L490.56,164.60 L491.15,164.63" fill="none" stroke="#000" stroke-width="1.35" stroke-dasharray="1.25 1.8"/>
<path d="M335.05,162.80 L337.25,165.00 L335.05,167.20 L332.85,165.00 Z" fill="none" stroke="#000" stroke-width="1.15" stroke-linejoin="round"/>
<path d="M344.75,160.90 L346.95,163.10 L344.75,165.30 L342.55,163.10 Z" fill="none" stroke="#000" stroke-width="1.15" stroke-linejoin="round"/>
<path d="M354.45,138.60 L356.65,140.80 L354.45,143.00 L352.25,140.80 Z" fill="none" stroke="#000" stroke-width="1.15" stroke-linejoin="round"/>
<path d="M362.80,75.70 L365.00,77.90 L362.80,80.10 L360.60,77.90 Z" fill="none" stroke="#000" stroke-width="1.15" stroke-linejoin="round"/>
<path d="M372.65,60.90 L374.85,63.10 L372.65,65.30 L370.45,63.10 Z" fill="none" stroke="#000" stroke-width="1.15" stroke-linejoin="round"/>
<path d="M382.15,85.10 L384.35,87.30 L382.15,89.50 L379.95,87.30 Z" fill="none" stroke="#000" stroke-width="1.15" stroke-linejoin="round"/>
<path d="M390.30,103.00 L392.50,105.20 L390.30,107.40 L388.10,105.20 Z" fill="none" stroke="#000" stroke-width="1.15" stroke-linejoin="round"/>
<path d="M400.20,121.40 L402.40,123.60 L400.20,125.80 L398.00,123.60 Z" fill="none" stroke="#000" stroke-width="1.15" stroke-linejoin="round"/>
<path d="M408.70,132.60 L410.90,134.80 L408.70,137.00 L406.50,134.80 Z" fill="none" stroke="#000" stroke-width="1.15" stroke-linejoin="round"/>
<path d="M418.15,136.90 L420.35,139.10 L418.15,141.30 L415.95,139.10 Z" fill="none" stroke="#000" stroke-width="1.15" stroke-linejoin="round"/>
<path d="M427.90,136.90 L430.10,139.10 L427.90,141.30 L425.70,139.10 Z" fill="none" stroke="#000" stroke-width="1.15" stroke-linejoin="round"/>
<path d="M436.30,133.00 L438.50,135.20 L436.30,137.40 L434.10,135.20 Z" fill="none" stroke="#000" stroke-width="1.15" stroke-linejoin="round"/>
<path d="M445.50,126.70 L447.70,128.90 L445.50,131.10 L443.30,128.90 Z" fill="none" stroke="#000" stroke-width="1.15" stroke-linejoin="round"/>
<path d="M454.40,123.90 L456.60,126.10 L454.40,128.30 L452.20,126.10 Z" fill="none" stroke="#000" stroke-width="1.15" stroke-linejoin="round"/>
<path d="M463.50,107.90 L465.70,110.10 L463.50,112.30 L461.30,110.10 Z" fill="none" stroke="#000" stroke-width="1.15" stroke-linejoin="round"/>
<path d="M473.40,101.50 L475.60,103.70 L473.40,105.90 L471.20,103.70 Z" fill="none" stroke="#000" stroke-width="1.15" stroke-linejoin="round"/>
<path d="M482.30,99.80 L484.50,102.00 L482.30,104.20 L480.10,102.00 Z" fill="none" stroke="#000" stroke-width="1.15" stroke-linejoin="round"/>
<path d="M491.50,108.50 L493.70,110.70 L491.50,112.90 L489.30,110.70 Z" fill="none" stroke="#000" stroke-width="1.15" stroke-linejoin="round"/>
</g>
<g id="panelC">
<path d="M82.20,249.58 V378.95" stroke="#000" stroke-width="1.65"/>
<path d="M250.10,249.58 V378.95" stroke="#000" stroke-width="1.8"/>
<path d="M81.38,250.30 H251.00" stroke="#000" stroke-width="1.45"/>
<path d="M81.38,378.35 H251.00" stroke="#000" stroke-width="1.2"/>
<path d="M74.90,374.20 H82.20" stroke="#000" stroke-width="1.3"/>
<text font-size="11.75" text-anchor="middle" transform="translate(69.40 374.20) rotate(-90) matrix(1 0.001 0 1 0 0)">0</text>
<path d="M74.90,350.25 H82.20" stroke="#000" stroke-width="1.3"/>
<text font-size="11.75" text-anchor="middle" transform="translate(69.40 350.25) rotate(-90) matrix(1 0.001 0 1 0 0)">1</text>
<path d="M74.90,326.30 H82.20" stroke="#000" stroke-width="1.3"/>
<text font-size="11.75" text-anchor="middle" transform="translate(69.40 326.30) rotate(-90) matrix(1 0.001 0 1 0 0)">2</text>
<path d="M74.90,302.35 H82.20" stroke="#000" stroke-width="1.3"/>
<text font-size="11.75" text-anchor="middle" transform="translate(69.40 302.35) rotate(-90) matrix(1 0.001 0 1 0 0)">3</text>
<path d="M74.90,278.40 H82.20" stroke="#000" stroke-width="1.3"/>
<text font-size="11.75" text-anchor="middle" transform="translate(69.40 278.40) rotate(-90) matrix(1 0.001 0 1 0 0)">4</text>
<path d="M74.90,254.45 H82.20" stroke="#000" stroke-width="1.3"/>
<text font-size="11.75" text-anchor="middle" transform="translate(69.40 254.45) rotate(-90) matrix(1 0.001 0 1 0 0)">5</text>
<path d="M84.50,378.35 V385.95" stroke="#000" stroke-width="1.3"/>
<text font-size="11.75" text-anchor="middle" transform="translate(85.25 399.40) matrix(1 0.001 0 1 0 0)">0</text>
<path d="M120.70,378.35 V385.95" stroke="#000" stroke-width="1.3"/>
<text font-size="11.75" text-anchor="middle" transform="translate(120.70 399.40) matrix(1 0.001 0 1 0 0)">20</text>
<path d="M157.80,378.35 V385.95" stroke="#000" stroke-width="1.3"/>
<text font-size="11.75" text-anchor="middle" transform="translate(157.75 399.40) matrix(1 0.001 0 1 0 0)">40</text>
<path d="M194.40,378.35 V385.95" stroke="#000" stroke-width="1.3"/>
<text font-size="11.75" text-anchor="middle" transform="translate(194.60 399.40) matrix(1 0.001 0 1 0 0)">60</text>
<path d="M231.20,378.35 V385.95" stroke="#000" stroke-width="1.3"/>
<text font-size="11.75" text-anchor="middle" transform="translate(231.65 399.40) matrix(1 0.001 0 1 0 0)">80</text>
<text font-size="11.75" text-anchor="middle" transform="translate(165.80 243.70) matrix(1 0.001 0 1 0 0)">Model 2, males</text>
<text font-size="11.75" text-anchor="middle" transform="translate(165.65 417.80) matrix(1 0.001 0 1 0 0)">Age</text>
<text font-size="11.75" text-anchor="middle" transform="translate(32.30 314.00) rotate(-90) matrix(1 0.001 0 1 0 0)">Incidence per 100,000</text>
<text font-size="11.75" text-anchor="middle" transform="translate(46.70 314.00) rotate(-90) matrix(1 0.001 0 1 0 0)">person-years</text>
<text x="0" y="0" font-size="28.0" font-weight="bold" style="stroke:#000;stroke-width:0.8px;stroke-linejoin:round" transform="translate(19.10 238.40) scale(0.935 1) matrix(1 0.001 0 1 0 0)">C</text>
<path d="M84.23,374.08 L84.77,373.83 L85.31,373.57 L85.84,373.30 L86.37,373.01 L86.88,372.70 L87.39,372.39 L87.89,372.05 L88.38,371.70 L88.85,371.34 L89.32,370.96 L89.77,370.57 L90.21,370.16 L90.64,369.74 L91.05,369.31 L91.45,368.87 L91.84,368.41 L92.21,367.94 L92.58,367.46 L92.93,366.98 L93.26,366.48 L93.58,365.98 L93.89,365.46 L94.19,364.95 L94.48,364.42 L94.75,363.89 L95.02,363.35 L95.27,362.81 L95.51,362.26 L95.75,361.71 L95.97,361.15 L96.19,360.60 L96.40,360.04 L96.60,359.47 L96.80,358.91 L96.99,358.34 L97.17,357.77 L97.35,357.19 L97.52,356.62 L97.69,356.05 L97.86,355.47 L98.02,354.89 L98.18,354.32 L98.33,353.74 L98.49,353.16 L98.64,352.58 L98.79,352.00 L98.94,351.42 L99.09,350.84 L99.24,350.26 L99.40,349.68 L99.55,349.10 L99.70,348.52 L99.84,347.94 L99.99,347.36 L100.14,346.78 L100.29,346.20 L100.44,345.62 L100.59,345.04 L100.74,344.46 L100.89,343.88 L101.03,343.30 L101.18,342.72 L101.33,342.14 L101.47,341.56 L101.62,340.98 L101.76,340.40 L101.91,339.82 L102.05,339.23 L102.20,338.65 L102.34,338.07 L102.48,337.49 L102.63,336.91 L102.77,336.33 L102.91,335.75 L103.05,335.16 L103.19,334.58 L103.34,334.00 L103.48,333.42 L103.61,332.83 L103.75,332.25 L103.89,331.67 L104.03,331.09 L104.17,330.50 L104.30,329.92 L104.44,329.34 L104.57,328.75 L104.71,328.17 L104.84,327.59 L104.98,327.00 L105.11,326.42 L105.24,325.83 L105.37,325.25 L105.50,324.66 L105.63,324.08 L105.76,323.50 L105.89,322.91 L106.02,322.33 L106.15,321.74 L106.28,321.15 L106.40,320.57 L106.53,319.98 L106.65,319.40 L106.78,318.81 L106.90,318.23 L107.03,317.64 L107.15,317.05 L107.27,316.47 L107.40,315.88 L107.52,315.30 L107.64,314.71 L107.76,314.12 L107.88,313.54 L108.01,312.95 L108.13,312.36 L108.25,311.78 L108.37,311.19 L108.49,310.60 L108.61,310.02 L108.73,309.43 L108.85,308.84 L108.96,308.26 L109.08,307.67 L109.20,307.08 L109.32,306.49 L109.44,305.91 L109.56,305.32 L109.68,304.73 L109.80,304.15 L109.91,303.56 L110.03,302.97 L110.15,302.38 L110.27,301.80 L110.39,301.21 L110.51,300.62 L110.62,300.04 L110.74,299.45 L110.86,298.86 L110.98,298.28 L111.10,297.69 L111.22,297.10 L111.35,296.52 L111.47,295.93 L111.60,295.34 L111.73,294.76 L111.86,294.18 L112.00,293.59 L112.14,293.01 L112.29,292.43 L112.45,291.85 L112.61,291.28 L112.77,290.70 L112.95,290.13 L113.13,289.56 L113.32,288.99 L113.52,288.42 L113.73,287.86 L113.95,287.31 L114.17,286.75 L114.41,286.20 L114.66,285.66 L114.93,285.12 L115.20,284.59 L115.49,284.06 L115.79,283.54 L116.10,283.03 L116.43,282.53 L116.77,282.04 L117.12,281.55 L117.49,281.08 L117.87,280.62 L118.27,280.18 L118.69,279.75 L119.13,279.34 L119.60,278.97 L120.09,278.63 L120.62,278.34 L121.18,278.14 L121.77,278.03 L122.36,278.05 L122.94,278.22 L123.46,278.51 L123.92,278.89 L124.33,279.32 L124.71,279.79 L125.05,280.28 L125.38,280.79 L125.68,281.30 L125.97,281.83 L126.24,282.36 L126.51,282.90 L126.76,283.44 L127.01,283.98 L127.25,284.53 L127.48,285.08 L127.71,285.64 L127.94,286.19 L128.17,286.75 L128.39,287.30 L128.62,287.86 L128.84,288.41 L129.07,288.97 L129.29,289.52 L129.51,290.08 L129.74,290.63 L129.96,291.19 L130.18,291.75 L130.40,292.30 L130.61,292.86 L130.82,293.42 L131.03,293.98 L131.24,294.55 L131.43,295.11 L131.63,295.68 L131.82,296.25 L132.01,296.82 L132.20,297.38 L132.39,297.95 L132.58,298.52 L132.78,299.08 L132.99,299.64 L133.22,300.20 L133.45,300.75 L133.67,301.31 L133.86,301.88 L134.01,302.46 L134.14,303.04 L134.26,303.63 L134.38,304.21 L134.50,304.80 L134.62,305.39 L134.76,305.97 L134.90,306.55 L135.04,307.13 L135.19,307.71 L135.35,308.29 L135.51,308.87 L135.68,309.44 L135.84,310.02 L136.02,310.59 L136.19,311.17 L136.37,311.74 L136.55,312.31 L136.74,312.88 L136.92,313.45 L137.11,314.01 L137.30,314.58 L137.50,315.15 L137.69,315.72 L137.89,316.28 L138.09,316.85 L138.29,317.41 L138.49,317.98 L138.69,318.54 L138.89,319.10 L139.10,319.67 L139.30,320.23 L139.51,320.79 L139.71,321.35 L139.92,321.92 L140.12,322.48 L140.33,323.04 L140.53,323.60 L140.74,324.17 L140.95,324.73 L141.15,325.29 L141.36,325.85 L141.57,326.42 L141.77,326.98 L141.98,327.54 L142.19,328.10 L142.41,328.66 L142.62,329.22 L142.83,329.78 L143.05,330.34 L143.27,330.90 L143.48,331.45 L143.71,332.01 L143.93,332.57 L144.16,333.12 L144.38,333.67 L144.62,334.23 L144.85,334.78 L145.09,335.33 L145.33,335.88 L145.57,336.42 L145.81,336.97 L146.06,337.51 L146.32,338.06 L146.57,338.60 L146.83,339.14 L147.10,339.67 L147.37,340.21 L147.64,340.74 L147.92,341.27 L148.20,341.80 L148.49,342.33 L148.78,342.85 L149.08,343.37 L149.38,343.89 L149.69,344.40 L150.00,344.91 L150.32,345.42 L150.65,345.92 L150.98,346.42 L151.31,346.92 L151.65,347.41 L152.00,347.90 L152.35,348.38 L152.71,348.86 L153.08,349.34 L153.44,349.81 L153.82,350.28 L154.20,350.74 L154.58,351.20 L154.97,351.65 L155.37,352.10 L155.77,352.55 L156.17,352.99 L156.58,353.43 L156.99,353.86 L157.41,354.29 L157.84,354.71 L158.27,355.13 L158.70,355.54 L159.14,355.95 L159.58,356.36 L160.03,356.76 L160.48,357.15 L160.93,357.54 L161.39,357.92 L161.86,358.30 L162.32,358.68 L162.80,359.05 L163.27,359.41 L163.75,359.77 L164.23,360.12 L164.72,360.47 L165.21,360.81 L165.71,361.15 L166.21,361.48 L166.71,361.81 L167.21,362.13 L167.72,362.45 L168.23,362.76 L168.75,363.06 L169.27,363.36 L169.79,363.66 L170.31,363.95 L170.84,364.23 L171.37,364.51 L171.90,364.78 L172.44,365.05 L172.98,365.31 L173.52,365.56 L174.07,365.81 L174.61,366.06 L175.16,366.30 L175.72,366.53 L176.27,366.75 L176.83,366.98 L177.39,367.19 L177.95,367.40 L178.51,367.60 L179.07,367.80 L179.64,367.99 L180.21,368.18 L180.78,368.36 L181.35,368.54 L181.93,368.71 L182.50,368.88 L183.08,369.04 L183.66,369.19 L184.24,369.34 L184.82,369.49 L185.40,369.63 L185.98,369.77 L186.57,369.90 L187.15,370.03 L187.74,370.15 L188.33,370.27 L188.92,370.38 L189.50,370.49 L190.09,370.60 L190.68,370.70 L191.27,370.80 L191.87,370.89 L192.46,370.99 L193.05,371.07 L193.64,371.16 L194.24,371.24 L194.83,371.31 L195.43,371.39 L196.02,371.46 L196.62,371.52 L197.21,371.59 L197.81,371.65 L198.40,371.71 L199.00,371.76 L199.60,371.82 L200.19,371.87 L200.79,371.91 L201.39,371.96 L201.98,372.00 L202.58,372.04 L203.18,372.08 L203.78,372.12 L204.38,372.15 L204.97,372.18 L205.57,372.21 L206.17,372.24 L206.77,372.26 L207.37,372.29 L207.97,372.31 L208.56,372.33 L209.16,372.35 L209.76,372.37 L210.36,372.38 L210.96,372.40 L211.56,372.41 L212.16,372.42 L212.75,372.44 L213.35,372.45 L213.95,372.45 L214.55,372.46 L215.15,372.47 L215.75,372.48 L216.35,372.48 L216.95,372.49 L217.55,372.49 L218.15,372.49 L218.74,372.50 L219.34,372.50 L219.94,372.50 L220.54,372.51 L221.14,372.51 L221.74,372.51 L222.34,372.51 L222.94,372.51 L223.54,372.51 L224.13,372.52 L224.73,372.52 L225.33,372.52 L225.93,372.52 L226.53,372.53 L227.13,372.53 L227.73,372.53 L228.33,372.54 L228.93,372.54 L229.52,372.55 L230.12,372.56 L230.72,372.57 L231.32,372.57 L231.92,372.58 L232.52,372.60 L233.12,372.61 L233.72,372.62 L234.32,372.64 L234.91,372.65 L235.51,372.67 L236.11,372.69 L236.71,372.71 L237.31,372.74 L237.91,372.76 L238.51,372.79 L239.10,372.82 L239.70,372.85 L240.30,372.89 L240.90,372.93 L241.49,372.96 L242.09,373.01 L242.69,373.05 L243.29,373.10 L243.88,373.15" fill="none" stroke="#000" stroke-width="1.7" stroke-dasharray="3.6 2.8"/>
<path d="M83.84,373.20 L84.43,373.29 L85.03,373.38 L85.62,373.46 L86.21,373.53 L86.81,373.60 L87.40,373.67 L88.00,373.73 L88.60,373.78 L89.19,373.83 L89.79,373.88 L90.39,373.92 L90.98,373.95 L91.58,373.98 L92.18,374.00 L92.78,374.02 L93.38,374.04 L93.98,374.05 L94.57,374.05 L95.17,374.05 L95.77,374.04 L96.37,374.03 L96.97,374.01 L97.57,373.99 L98.16,373.96 L98.76,373.93 L99.36,373.89 L99.96,373.84 L100.55,373.79 L101.15,373.74 L101.74,373.68 L102.34,373.61 L102.93,373.54 L103.53,373.46 L104.12,373.38 L104.71,373.29 L105.30,373.20 L105.89,373.10 L106.48,372.99 L107.07,372.88 L107.66,372.77 L108.24,372.65 L108.83,372.52 L109.41,372.39 L110.00,372.26 L110.58,372.11 L111.16,371.97 L111.74,371.81 L112.32,371.66 L112.89,371.50 L113.47,371.33 L114.04,371.16 L114.61,370.98 L115.18,370.80 L115.75,370.61 L116.32,370.42 L116.88,370.22 L117.45,370.02 L118.01,369.81 L118.57,369.60 L119.13,369.38 L119.68,369.16 L120.24,368.94 L120.79,368.71 L121.34,368.48 L121.89,368.24 L122.44,368.00 L122.98,367.75 L123.53,367.50 L124.07,367.24 L124.61,366.98 L125.15,366.72 L125.68,366.45 L126.22,366.18 L126.75,365.91 L127.28,365.63 L127.81,365.35 L128.33,365.06 L128.86,364.77 L129.38,364.48 L129.90,364.18 L130.42,363.88 L130.93,363.58 L131.45,363.27 L131.96,362.96 L132.47,362.65 L132.98,362.33 L133.48,362.01 L133.99,361.69 L134.49,361.36 L134.99,361.03 L135.49,360.70 L135.98,360.37 L136.48,360.03 L136.97,359.69 L137.46,359.35 L137.95,359.00 L138.44,358.65 L138.92,358.30 L139.41,357.95 L139.89,357.60 L140.37,357.24 L140.84,356.88 L141.32,356.51 L141.80,356.15 L142.27,355.78 L142.74,355.41 L143.21,355.04 L143.68,354.67 L144.14,354.29 L144.61,353.92 L145.07,353.54 L145.53,353.15 L145.99,352.77 L146.45,352.39 L146.91,352.00 L147.36,351.61 L147.81,351.22 L148.27,350.83 L148.72,350.43 L149.17,350.04 L149.62,349.64 L150.06,349.24 L150.51,348.84 L150.95,348.44 L151.39,348.04 L151.84,347.63 L152.28,347.23 L152.71,346.82 L153.15,346.41 L153.59,346.00 L154.02,345.59 L154.46,345.18 L154.89,344.77 L155.32,344.35 L155.75,343.94 L156.18,343.52 L156.61,343.10 L157.04,342.68 L157.47,342.26 L157.89,341.84 L158.32,341.42 L158.74,341.00 L159.16,340.57 L159.59,340.15 L160.01,339.72 L160.43,339.30 L160.85,338.87 L161.27,338.44 L161.68,338.01 L162.10,337.58 L162.52,337.15 L162.93,336.72 L163.35,336.29 L163.76,335.86 L164.18,335.43 L164.59,335.00 L165.00,334.56 L165.42,334.13 L165.83,333.69 L166.24,333.26 L166.65,332.82 L167.06,332.39 L167.47,331.95 L167.88,331.52 L168.29,331.08 L168.70,330.64 L169.11,330.20 L169.51,329.77 L169.92,329.33 L170.33,328.89 L170.74,328.45 L171.15,328.01 L171.55,327.57 L171.96,327.14 L172.37,326.70 L172.77,326.26 L173.18,325.82 L173.59,325.38 L173.99,324.94 L174.40,324.50 L174.81,324.06 L175.21,323.62 L175.62,323.18 L176.03,322.74 L176.43,322.30 L176.84,321.87 L177.25,321.43 L177.66,320.99 L178.06,320.55 L178.47,320.11 L178.88,319.67 L179.29,319.24 L179.70,318.80 L180.10,318.36 L180.51,317.92 L180.92,317.48 L181.33,317.05 L181.74,316.61 L182.15,316.17 L182.56,315.74 L182.97,315.30 L183.38,314.86 L183.79,314.43 L184.20,313.99 L184.61,313.56 L185.02,313.12 L185.43,312.68 L185.84,312.25 L186.25,311.81 L186.66,311.38 L187.07,310.95 L187.49,310.51 L187.90,310.08 L188.31,309.64 L188.72,309.21 L189.14,308.78 L189.55,308.34 L189.97,307.91 L190.38,307.48 L190.79,307.05 L191.21,306.62 L191.62,306.19 L192.04,305.75 L192.46,305.32 L192.87,304.89 L193.29,304.46 L193.70,304.03 L194.12,303.60 L194.54,303.17 L194.96,302.75 L195.37,302.32 L195.79,301.89 L196.21,301.46 L196.63,301.03 L197.05,300.61 L197.47,300.18 L197.89,299.76 L198.31,299.33 L198.74,298.91 L199.16,298.49 L199.59,298.07 L200.02,297.66 L200.46,297.24 L200.90,296.84 L201.34,296.43 L201.79,296.03 L202.24,295.64 L202.69,295.25 L203.15,294.87 L203.62,294.49 L204.09,294.13 L204.57,293.77 L205.06,293.42 L205.55,293.07 L206.04,292.74 L206.55,292.42 L207.06,292.11 L207.58,291.82 L208.11,291.53 L208.65,291.27 L209.19,291.01 L209.74,290.77 L210.29,290.54 L210.85,290.33 L211.42,290.14 L211.99,289.95 L212.56,289.79 L213.14,289.63 L213.72,289.49 L214.31,289.37 L214.89,289.25 L215.48,289.16 L216.08,289.08 L216.67,289.01 L217.27,288.95 L217.87,288.91 L218.46,288.88 L219.06,288.87 L219.66,288.87 L220.26,288.88 L220.86,288.91 L221.45,288.95 L222.05,289.00 L222.65,289.07 L223.24,289.15 L223.83,289.24 L224.42,289.34 L225.01,289.46 L225.59,289.59 L226.17,289.73 L226.75,289.88 L227.33,290.05 L227.90,290.22 L228.47,290.41 L229.03,290.61 L229.59,290.82 L230.15,291.05 L230.70,291.28 L231.24,291.53 L231.78,291.78 L232.32,292.05 L232.85,292.33 L233.37,292.62 L233.89,292.92 L234.40,293.23 L234.91,293.55 L235.41,293.88 L235.90,294.22 L236.38,294.58 L236.86,294.94 L237.33,295.31 L237.79,295.69 L238.24,296.08 L238.69,296.48 L239.13,296.89 L239.55,297.31 L239.97,297.74 L240.38,298.17 L240.78,298.62 L241.17,299.07 L241.55,299.53 L241.93,300.00 L242.29,300.48 L242.64,300.97 L242.98,301.46 L243.31,301.96" fill="none" stroke="#000" stroke-width="1.35" stroke-dasharray="1.25 1.8"/>
<path d="M87.60,368.30 L89.80,370.50 L87.60,372.70 L85.40,370.50 Z" fill="none" stroke="#000" stroke-width="1.15" stroke-linejoin="round"/>
<path d="M97.45,360.20 L99.65,362.40 L97.45,364.60 L95.25,362.40 Z" fill="none" stroke="#000" stroke-width="1.15" stroke-linejoin="round"/>
<path d="M105.75,336.70 L107.95,338.90 L105.75,341.10 L103.55,338.90 Z" fill="none" stroke="#000" stroke-width="1.15" stroke-linejoin="round"/>
<path d="M115.25,292.90 L117.45,295.10 L115.25,297.30 L113.05,295.10 Z" fill="none" stroke="#000" stroke-width="1.15" stroke-linejoin="round"/>
<path d="M123.85,278.20 L126.05,280.40 L123.85,282.60 L121.65,280.40 Z" fill="none" stroke="#000" stroke-width="1.15" stroke-linejoin="round"/>
<path d="M133.45,282.60 L135.65,284.80 L133.45,287.00 L131.25,284.80 Z" fill="none" stroke="#000" stroke-width="1.15" stroke-linejoin="round"/>
<path d="M142.70,292.90 L144.90,295.10 L142.70,297.30 L140.50,295.10 Z" fill="none" stroke="#000" stroke-width="1.15" stroke-linejoin="round"/>
<path d="M151.55,310.75 L153.75,312.95 L151.55,315.15 L149.35,312.95 Z" fill="none" stroke="#000" stroke-width="1.15" stroke-linejoin="round"/>
<path d="M160.95,312.40 L163.15,314.60 L160.95,316.80 L158.75,314.60 Z" fill="none" stroke="#000" stroke-width="1.15" stroke-linejoin="round"/>
<path d="M169.35,321.55 L171.55,323.75 L169.35,325.95 L167.15,323.75 Z" fill="none" stroke="#000" stroke-width="1.15" stroke-linejoin="round"/>
<path d="M179.10,316.25 L181.30,318.45 L179.10,320.65 L176.90,318.45 Z" fill="none" stroke="#000" stroke-width="1.15" stroke-linejoin="round"/>
<path d="M188.50,309.60 L190.70,311.80 L188.50,314.00 L186.30,311.80 Z" fill="none" stroke="#000" stroke-width="1.15" stroke-linejoin="round"/>
<path d="M197.10,299.80 L199.30,302.00 L197.10,304.20 L194.90,302.00 Z" fill="none" stroke="#000" stroke-width="1.15" stroke-linejoin="round"/>
<path d="M206.70,287.00 L208.90,289.20 L206.70,291.40 L204.50,289.20 Z" fill="none" stroke="#000" stroke-width="1.15" stroke-linejoin="round"/>
<path d="M216.30,293.70 L218.50,295.90 L216.30,298.10 L214.10,295.90 Z" fill="none" stroke="#000" stroke-width="1.15" stroke-linejoin="round"/>
<path d="M224.70,285.40 L226.90,287.60 L224.70,289.80 L222.50,287.60 Z" fill="none" stroke="#000" stroke-width="1.15" stroke-linejoin="round"/>
<path d="M234.50,274.30 L236.70,276.50 L234.50,278.70 L232.30,276.50 Z" fill="none" stroke="#000" stroke-width="1.15" stroke-linejoin="round"/>
<path d="M242.80,304.90 L245.00,307.10 L242.80,309.30 L240.60,307.10 Z" fill="none" stroke="#000" stroke-width="1.15" stroke-linejoin="round"/>
</g>
<g id="panelD">
<path d="M329.80,246.92 V376.47" stroke="#000" stroke-width="1.45"/>
<path d="M497.80,246.92 V376.47" stroke="#000" stroke-width="1.7"/>
<path d="M329.07,247.70 H498.65" stroke="#000" stroke-width="1.55"/>
<path d="M329.07,375.95 H498.65" stroke="#000" stroke-width="1.05"/>
<path d="M322.50,371.80 H329.80" stroke="#000" stroke-width="1.3"/>
<text font-size="11.75" text-anchor="middle" transform="translate(317.40 371.80) rotate(-90) matrix(1 0.001 0 1 0 0)">0</text>
<path d="M322.50,347.85 H329.80" stroke="#000" stroke-width="1.3"/>
<text font-size="11.75" text-anchor="middle" transform="translate(317.40 347.85) rotate(-90) matrix(1 0.001 0 1 0 0)">1</text>
<path d="M322.50,323.90 H329.80" stroke="#000" stroke-width="1.3"/>
<text font-size="11.75" text-anchor="middle" transform="translate(317.40 323.90) rotate(-90) matrix(1 0.001 0 1 0 0)">2</text>
<path d="M322.50,299.95 H329.80" stroke="#000" stroke-width="1.3"/>
<text font-size="11.75" text-anchor="middle" transform="translate(317.40 299.95) rotate(-90) matrix(1 0.001 0 1 0 0)">3</text>
<path d="M322.50,276.00 H329.80" stroke="#000" stroke-width="1.3"/>
<text font-size="11.75" text-anchor="middle" transform="translate(317.40 276.00) rotate(-90) matrix(1 0.001 0 1 0 0)">4</text>
<path d="M322.50,252.05 H329.80" stroke="#000" stroke-width="1.3"/>
<text font-size="11.75" text-anchor="middle" transform="translate(317.40 252.05) rotate(-90) matrix(1 0.001 0 1 0 0)">5</text>
<path d="M331.90,375.95 V383.55" stroke="#000" stroke-width="1.3"/>
<text font-size="11.75" text-anchor="middle" transform="translate(332.50 397.10) matrix(1 0.001 0 1 0 0)">0</text>
<path d="M369.35,375.95 V383.55" stroke="#000" stroke-width="1.3"/>
<text font-size="11.75" text-anchor="middle" transform="translate(369.85 397.10) matrix(1 0.001 0 1 0 0)">20</text>
<path d="M405.20,375.95 V383.55" stroke="#000" stroke-width="1.3"/>
<text font-size="11.75" text-anchor="middle" transform="translate(406.30 397.10) matrix(1 0.001 0 1 0 0)">40</text>
<path d="M442.40,375.95 V383.55" stroke="#000" stroke-width="1.3"/>
<text font-size="11.75" text-anchor="middle" transform="translate(443.10 397.10) matrix(1 0.001 0 1 0 0)">60</text>
<path d="M478.60,375.95 V383.55" stroke="#000" stroke-width="1.3"/>
<text font-size="11.75" text-anchor="middle" transform="translate(479.65 397.10) matrix(1 0.001 0 1 0 0)">80</text>
<text font-size="11.75" text-anchor="middle" transform="translate(414.40 241.70) matrix(1 0.001 0 1 0 0)">Model 2, females</text>
<text font-size="11.75" text-anchor="middle" transform="translate(414.10 415.20) matrix(1 0.001 0 1 0 0)">Age</text>
<text font-size="11.75" text-anchor="middle" transform="translate(282.40 311.70) rotate(-90) matrix(1 0.001 0 1 0 0)">Incidence per 100,000</text>
<text font-size="11.75" text-anchor="middle" transform="translate(296.80 311.70) rotate(-90) matrix(1 0.001 0 1 0 0)">person-years</text>
<text x="0" y="0" font-size="28.0" font-weight="bold" style="stroke:#000;stroke-width:0.8px;stroke-linejoin:round" transform="translate(269.80 236.30) scale(0.935 1) matrix(1 0.001 0 1 0 0)">D</text>
<path d="M332.56,372.23 L333.07,371.92 L333.58,371.60 L334.07,371.27 L334.56,370.92 L335.03,370.55 L335.49,370.16 L335.94,369.77 L336.38,369.36 L336.80,368.93 L337.21,368.49 L337.61,368.05 L337.99,367.59 L338.36,367.11 L338.72,366.63 L339.07,366.14 L339.40,365.65 L339.72,365.14 L340.03,364.63 L340.33,364.11 L340.62,363.58 L340.89,363.05 L341.16,362.51 L341.41,361.97 L341.66,361.42 L341.90,360.87 L342.13,360.32 L342.35,359.76 L342.56,359.20 L342.77,358.64 L342.97,358.07 L343.16,357.50 L343.35,356.93 L343.53,356.36 L343.71,355.79 L343.88,355.22 L344.04,354.64 L344.21,354.06 L344.37,353.49 L344.52,352.91 L344.67,352.33 L344.82,351.75 L344.97,351.17 L345.12,350.58 L345.26,350.00 L345.40,349.42 L345.55,348.84 L345.69,348.25 L345.83,347.67 L345.97,347.09 L346.11,346.51 L346.25,345.92 L346.39,345.34 L346.54,344.76 L346.68,344.18 L346.82,343.60 L346.97,343.01 L347.11,342.43 L347.26,341.85 L347.41,341.27 L347.55,340.69 L347.70,340.11 L347.85,339.53 L347.99,338.94 L348.14,338.36 L348.29,337.78 L348.44,337.20 L348.59,336.62 L348.74,336.04 L348.89,335.46 L349.03,334.88 L349.18,334.30 L349.33,333.72 L349.48,333.14 L349.63,332.56 L349.78,331.98 L349.93,331.40 L350.08,330.82 L350.23,330.23 L350.37,329.65 L350.52,329.07 L350.67,328.49 L350.82,327.91 L350.96,327.33 L351.11,326.75 L351.26,326.17 L351.40,325.59 L351.55,325.00 L351.69,324.42 L351.84,323.84 L351.98,323.26 L352.12,322.68 L352.26,322.09 L352.41,321.51 L352.55,320.93 L352.69,320.34 L352.82,319.76 L352.96,319.18 L353.10,318.59 L353.23,318.01 L353.37,317.43 L353.50,316.84 L353.64,316.26 L353.77,315.67 L353.90,315.09 L354.03,314.50 L354.15,313.92 L354.28,313.33 L354.41,312.74 L354.53,312.16 L354.65,311.57 L354.77,310.98 L354.90,310.40 L355.02,309.81 L355.13,309.22 L355.25,308.63 L355.37,308.05 L355.49,307.46 L355.60,306.87 L355.72,306.28 L355.84,305.69 L355.95,305.11 L356.07,304.52 L356.18,303.93 L356.30,303.34 L356.41,302.75 L356.53,302.17 L356.65,301.58 L356.76,300.99 L356.88,300.40 L356.99,299.81 L357.11,299.23 L357.23,298.64 L357.35,298.05 L357.47,297.46 L357.59,296.88 L357.71,296.29 L357.83,295.70 L357.95,295.11 L358.07,294.53 L358.20,293.94 L358.32,293.35 L358.45,292.77 L358.58,292.18 L358.71,291.60 L358.84,291.01 L358.97,290.43 L359.10,289.84 L359.24,289.26 L359.37,288.67 L359.51,288.09 L359.65,287.51 L359.79,286.93 L359.93,286.34 L360.07,285.76 L360.22,285.18 L360.37,284.60 L360.52,284.02 L360.68,283.44 L360.84,282.86 L361.02,282.29 L361.20,281.72 L361.39,281.15 L361.59,280.59 L361.80,280.02 L362.02,279.47 L362.26,278.92 L362.52,278.38 L362.79,277.84 L363.08,277.32 L363.39,276.81 L363.73,276.31 L364.08,275.83 L364.47,275.37 L364.87,274.93 L365.31,274.51 L365.77,274.13 L366.26,273.80 L366.79,273.51 L367.35,273.31 L367.94,273.20 L368.54,273.22 L369.12,273.35 L369.68,273.57 L370.21,273.85 L370.70,274.20 L371.16,274.58 L371.59,275.00 L371.99,275.44 L372.37,275.90 L372.73,276.39 L373.06,276.88 L373.37,277.40 L373.66,277.92 L373.93,278.46 L374.18,279.00 L374.41,279.56 L374.63,280.11 L374.84,280.68 L375.04,281.24 L375.23,281.81 L375.42,282.38 L375.61,282.95 L375.79,283.52 L375.98,284.09 L376.17,284.65 L376.36,285.22 L376.56,285.79 L376.76,286.36 L376.95,286.92 L377.16,287.49 L377.36,288.05 L377.56,288.61 L377.77,289.18 L377.97,289.74 L378.18,290.30 L378.39,290.87 L378.59,291.43 L378.80,291.99 L379.01,292.55 L379.22,293.11 L379.43,293.67 L379.64,294.24 L379.85,294.80 L380.06,295.36 L380.27,295.92 L380.48,296.48 L380.69,297.04 L380.89,297.61 L381.10,298.17 L381.31,298.73 L381.51,299.30 L381.71,299.86 L381.91,300.43 L382.11,300.99 L382.30,301.56 L382.50,302.13 L382.69,302.70 L382.87,303.26 L383.06,303.84 L383.24,304.41 L383.42,304.98 L383.60,305.55 L383.77,306.12 L383.95,306.70 L384.12,307.27 L384.28,307.85 L384.45,308.42 L384.61,309.00 L384.78,309.58 L384.94,310.16 L385.10,310.73 L385.25,311.31 L385.41,311.89 L385.56,312.47 L385.72,313.05 L385.87,313.63 L386.03,314.21 L386.18,314.79 L386.33,315.37 L386.48,315.95 L386.64,316.53 L386.79,317.11 L386.95,317.68 L387.10,318.26 L387.26,318.84 L387.42,319.42 L387.58,320.00 L387.75,320.57 L387.91,321.15 L388.08,321.73 L388.25,322.30 L388.43,322.87 L388.60,323.45 L388.78,324.02 L388.97,324.59 L389.16,325.16 L389.35,325.73 L389.54,326.29 L389.74,326.86 L389.95,327.42 L390.15,327.98 L390.37,328.54 L390.58,329.10 L390.80,329.66 L391.03,330.22 L391.26,330.77 L391.49,331.32 L391.73,331.87 L391.97,332.42 L392.21,332.97 L392.46,333.52 L392.71,334.06 L392.97,334.60 L393.23,335.14 L393.49,335.68 L393.76,336.22 L394.03,336.75 L394.31,337.28 L394.59,337.81 L394.87,338.34 L395.16,338.86 L395.45,339.39 L395.75,339.91 L396.05,340.43 L396.35,340.94 L396.66,341.46 L396.98,341.97 L397.29,342.48 L397.61,342.99 L397.94,343.49 L398.27,343.99 L398.60,344.49 L398.94,344.98 L399.28,345.48 L399.62,345.97 L399.97,346.45 L400.33,346.94 L400.69,347.42 L401.05,347.89 L401.42,348.37 L401.79,348.84 L402.16,349.31 L402.54,349.77 L402.93,350.23 L403.32,350.68 L403.71,351.14 L404.11,351.58 L404.51,352.03 L404.92,352.47 L405.33,352.90 L405.75,353.33 L406.17,353.76 L406.60,354.18 L407.03,354.60 L407.46,355.01 L407.90,355.42 L408.35,355.82 L408.80,356.22 L409.25,356.61 L409.71,356.99 L410.18,357.37 L410.65,357.74 L411.12,358.11 L411.60,358.47 L412.08,358.83 L412.57,359.18 L413.06,359.52 L413.56,359.85 L414.06,360.18 L414.57,360.50 L415.08,360.81 L415.59,361.12 L416.11,361.42 L416.63,361.72 L417.16,362.00 L417.69,362.28 L418.23,362.55 L418.76,362.82 L419.30,363.08 L419.85,363.33 L420.39,363.58 L420.94,363.82 L421.49,364.05 L422.05,364.28 L422.60,364.50 L423.16,364.72 L423.73,364.93 L424.29,365.13 L424.86,365.33 L425.42,365.52 L425.99,365.71 L426.57,365.89 L427.14,366.06 L427.71,366.23 L428.29,366.39 L428.87,366.55 L429.45,366.71 L430.03,366.86 L430.61,367.00 L431.19,367.14 L431.78,367.27 L432.36,367.40 L432.95,367.53 L433.54,367.65 L434.12,367.77 L434.71,367.88 L435.30,367.99 L435.89,368.09 L436.48,368.20 L437.08,368.29 L437.67,368.38 L438.26,368.47 L438.85,368.56 L439.45,368.64 L440.04,368.72 L440.64,368.80 L441.23,368.87 L441.83,368.94 L442.42,369.01 L443.02,369.07 L443.61,369.13 L444.21,369.19 L444.81,369.25 L445.40,369.30 L446.00,369.35 L446.60,369.40 L447.20,369.44 L447.80,369.49 L448.39,369.53 L448.99,369.57 L449.59,369.61 L450.19,369.64 L450.79,369.68 L451.39,369.71 L451.98,369.74 L452.58,369.77 L453.18,369.79 L453.78,369.82 L454.38,369.84 L454.98,369.86 L455.58,369.88 L456.18,369.90 L456.78,369.92 L457.38,369.94 L457.97,369.96 L458.57,369.97 L459.17,369.99 L459.77,370.00 L460.37,370.01 L460.97,370.03 L461.57,370.04 L462.17,370.05 L462.77,370.06 L463.37,370.07 L463.97,370.08 L464.57,370.09 L465.17,370.10 L465.77,370.11 L466.36,370.12 L466.96,370.13 L467.56,370.14 L468.16,370.15 L468.76,370.16 L469.36,370.17 L469.96,370.18 L470.56,370.19 L471.16,370.20 L471.76,370.22 L472.36,370.23 L472.96,370.24 L473.56,370.26 L474.16,370.27 L474.76,370.29 L475.35,370.31 L475.95,370.33 L476.55,370.35 L477.15,370.37 L477.75,370.39 L478.35,370.42 L478.95,370.44 L479.55,370.47 L480.15,370.50 L480.74,370.53 L481.34,370.57 L481.94,370.61 L482.54,370.64 L483.14,370.69 L483.74,370.73 L484.33,370.78 L484.93,370.83 L485.53,370.88 L486.12,370.93 L486.72,370.99 L487.32,371.05 L487.91,371.12 L488.51,371.19" fill="none" stroke="#000" stroke-width="1.7" stroke-dasharray="3.6 2.8"/>
<path d="M332.03,371.11 L332.63,371.17 L333.22,371.22 L333.82,371.28 L334.42,371.33 L335.02,371.38 L335.61,371.42 L336.21,371.47 L336.81,371.51 L337.41,371.54 L338.01,371.58 L338.61,371.61 L339.21,371.64 L339.80,371.66 L340.40,371.69 L341.00,371.71 L341.60,371.72 L342.20,371.74 L342.80,371.75 L343.40,371.76 L344.00,371.76 L344.60,371.77 L345.20,371.77 L345.80,371.76 L346.40,371.76 L347.00,371.75 L347.60,371.73 L348.20,371.72 L348.80,371.70 L349.40,371.68 L349.99,371.66 L350.59,371.63 L351.19,371.60 L351.79,371.57 L352.39,371.54 L352.99,371.50 L353.59,371.46 L354.18,371.41 L354.78,371.37 L355.38,371.32 L355.98,371.27 L356.57,371.21 L357.17,371.15 L357.77,371.09 L358.36,371.03 L358.96,370.96 L359.55,370.89 L360.15,370.82 L360.74,370.75 L361.34,370.67 L361.93,370.59 L362.53,370.51 L363.12,370.42 L363.71,370.33 L364.31,370.24 L364.90,370.15 L365.49,370.05 L366.08,369.95 L366.67,369.85 L367.26,369.74 L367.85,369.64 L368.44,369.52 L369.03,369.41 L369.62,369.30 L370.21,369.18 L370.79,369.06 L371.38,368.93 L371.97,368.81 L372.55,368.68 L373.14,368.55 L373.72,368.41 L374.31,368.28 L374.89,368.14 L375.47,368.00 L376.05,367.85 L376.64,367.71 L377.22,367.56 L377.80,367.41 L378.38,367.25 L378.95,367.10 L379.53,366.94 L380.11,366.78 L380.69,366.61 L381.26,366.45 L381.84,366.28 L382.41,366.11 L382.99,365.93 L383.56,365.76 L384.13,365.58 L384.71,365.40 L385.28,365.22 L385.85,365.03 L386.42,364.85 L386.99,364.66 L387.55,364.47 L388.12,364.27 L388.69,364.08 L389.25,363.88 L389.82,363.68 L390.38,363.48 L390.95,363.27 L391.51,363.07 L392.07,362.86 L392.63,362.65 L393.19,362.43 L393.75,362.22 L394.31,362.00 L394.87,361.78 L395.43,361.56 L395.99,361.34 L396.54,361.11 L397.10,360.89 L397.65,360.66 L398.20,360.43 L398.76,360.19 L399.31,359.96 L399.86,359.72 L400.41,359.48 L400.96,359.24 L401.51,359.00 L402.05,358.76 L402.60,358.51 L403.15,358.27 L403.69,358.02 L404.24,357.76 L404.78,357.51 L405.32,357.26 L405.87,357.00 L406.41,356.74 L406.95,356.48 L407.49,356.22 L408.03,355.96 L408.56,355.69 L409.10,355.43 L409.64,355.16 L410.17,354.89 L410.71,354.62 L411.24,354.35 L411.78,354.07 L412.31,353.80 L412.84,353.52 L413.37,353.24 L413.90,352.96 L414.43,352.68 L414.96,352.40 L415.49,352.11 L416.01,351.82 L416.54,351.54 L417.06,351.25 L417.59,350.96 L418.11,350.67 L418.64,350.37 L419.16,350.08 L419.68,349.78 L420.20,349.49 L420.72,349.19 L421.24,348.89 L421.76,348.59 L422.28,348.28 L422.79,347.98 L423.31,347.67 L423.82,347.37 L424.34,347.06 L424.85,346.75 L425.37,346.44 L425.88,346.13 L426.39,345.82 L426.90,345.51 L427.41,345.20 L427.92,344.88 L428.43,344.56 L428.94,344.25 L429.45,343.93 L429.96,343.61 L430.47,343.29 L430.97,342.97 L431.48,342.65 L431.99,342.33 L432.49,342.01 L433.00,341.68 L433.50,341.36 L434.01,341.03 L434.51,340.71 L435.01,340.38 L435.51,340.05 L436.02,339.73 L436.52,339.40 L437.02,339.07 L437.52,338.74 L438.02,338.41 L438.52,338.08 L439.02,337.75 L439.52,337.42 L440.02,337.09 L440.52,336.75 L441.02,336.42 L441.52,336.09 L442.01,335.75 L442.51,335.42 L443.01,335.08 L443.51,334.75 L444.00,334.41 L444.50,334.08 L445.00,333.74 L445.49,333.41 L445.99,333.07 L446.49,332.73 L446.98,332.40 L447.48,332.06 L447.98,331.72 L448.47,331.39 L448.97,331.05 L449.46,330.71 L449.96,330.38 L450.45,330.04 L450.95,329.70 L451.45,329.36 L451.94,329.03 L452.44,328.69 L452.93,328.35 L453.43,328.01 L453.92,327.68 L454.42,327.34 L454.92,327.00 L455.41,326.67 L455.91,326.33 L456.41,325.99 L456.90,325.66 L457.40,325.32 L457.90,324.99 L458.39,324.65 L458.89,324.32 L459.39,323.98 L459.88,323.65 L460.38,323.31 L460.88,322.98 L461.38,322.65 L461.88,322.31 L462.38,321.98 L462.88,321.65 L463.38,321.32 L463.88,320.99 L464.38,320.66 L464.88,320.33 L465.38,320.00 L465.88,319.67 L466.38,319.34 L466.88,319.01 L467.39,318.69 L467.89,318.36 L468.39,318.03 L468.90,317.71 L469.40,317.39 L469.91,317.06 L470.41,316.74 L470.92,316.42 L471.43,316.10 L471.93,315.78 L472.44,315.46 L472.95,315.14 L473.46,314.82 L473.97,314.51 L474.48,314.19 L474.99,313.88 L475.50,313.57 L476.01,313.25 L476.52,312.94 L477.04,312.63 L477.55,312.32 L478.07,312.02 L478.58,311.71 L479.10,311.40 L479.61,311.10 L480.13,310.80 L480.65,310.50 L481.17,310.20 L481.69,309.90 L482.21,309.60 L482.73,309.30 L483.25,309.01 L483.78,308.72 L484.30,308.42 L484.82,308.13 L485.35,307.85 L485.88,307.56 L486.40,307.27 L486.93,306.99 L487.46,306.71 L487.99,306.43 L488.52,306.15 L489.05,305.87" fill="none" stroke="#000" stroke-width="1.35" stroke-dasharray="1.25 1.8"/>
<path d="M334.65,367.30 L336.85,369.50 L334.65,371.70 L332.45,369.50 Z" fill="none" stroke="#000" stroke-width="1.15" stroke-linejoin="round"/>
<path d="M344.35,365.40 L346.55,367.60 L344.35,369.80 L342.15,367.60 Z" fill="none" stroke="#000" stroke-width="1.15" stroke-linejoin="round"/>
<path d="M354.05,343.10 L356.25,345.30 L354.05,347.50 L351.85,345.30 Z" fill="none" stroke="#000" stroke-width="1.15" stroke-linejoin="round"/>
<path d="M362.40,280.20 L364.60,282.40 L362.40,284.60 L360.20,282.40 Z" fill="none" stroke="#000" stroke-width="1.15" stroke-linejoin="round"/>
<path d="M372.25,265.40 L374.45,267.60 L372.25,269.80 L370.05,267.60 Z" fill="none" stroke="#000" stroke-width="1.15" stroke-linejoin="round"/>
<path d="M381.75,289.60 L383.95,291.80 L381.75,294.00 L379.55,291.80 Z" fill="none" stroke="#000" stroke-width="1.15" stroke-linejoin="round"/>
<path d="M389.90,307.50 L392.10,309.70 L389.90,311.90 L387.70,309.70 Z" fill="none" stroke="#000" stroke-width="1.15" stroke-linejoin="round"/>
<path d="M399.80,325.90 L402.00,328.10 L399.80,330.30 L397.60,328.10 Z" fill="none" stroke="#000" stroke-width="1.15" stroke-linejoin="round"/>
<path d="M408.30,337.10 L410.50,339.30 L408.30,341.50 L406.10,339.30 Z" fill="none" stroke="#000" stroke-width="1.15" stroke-linejoin="round"/>
<path d="M417.75,341.40 L419.95,343.60 L417.75,345.80 L415.55,343.60 Z" fill="none" stroke="#000" stroke-width="1.15" stroke-linejoin="round"/>
<path d="M427.50,341.40 L429.70,343.60 L427.50,345.80 L425.30,343.60 Z" fill="none" stroke="#000" stroke-width="1.15" stroke-linejoin="round"/>
<path d="M435.90,337.50 L438.10,339.70 L435.90,341.90 L433.70,339.70 Z" fill="none" stroke="#000" stroke-width="1.15" stroke-linejoin="round"/>
<path d="M445.10,331.20 L447.30,333.40 L445.10,335.60 L442.90,333.40 Z" fill="none" stroke="#000" stroke-width="1.15" stroke-linejoin="round"/>
<path d="M454.00,328.40 L456.20,330.60 L454.00,332.80 L451.80,330.60 Z" fill="none" stroke="#000" stroke-width="1.15" stroke-linejoin="round"/>
<path d="M463.10,312.40 L465.30,314.60 L463.10,316.80 L460.90,314.60 Z" fill="none" stroke="#000" stroke-width="1.15" stroke-linejoin="round"/>
<path d="M473.00,306.00 L475.20,308.20 L473.00,310.40 L470.80,308.20 Z" fill="none" stroke="#000" stroke-width="1.15" stroke-linejoin="round"/>
<path d="M481.90,304.30 L484.10,306.50 L481.90,308.70 L479.70,306.50 Z" fill="none" stroke="#000" stroke-width="1.15" stroke-linejoin="round"/>
<path d="M491.10,313.00 L493.30,315.20 L491.10,317.40 L488.90,315.20 Z" fill="none" stroke="#000" stroke-width="1.15" stroke-linejoin="round"/>
</g>
</svg></body></html>
